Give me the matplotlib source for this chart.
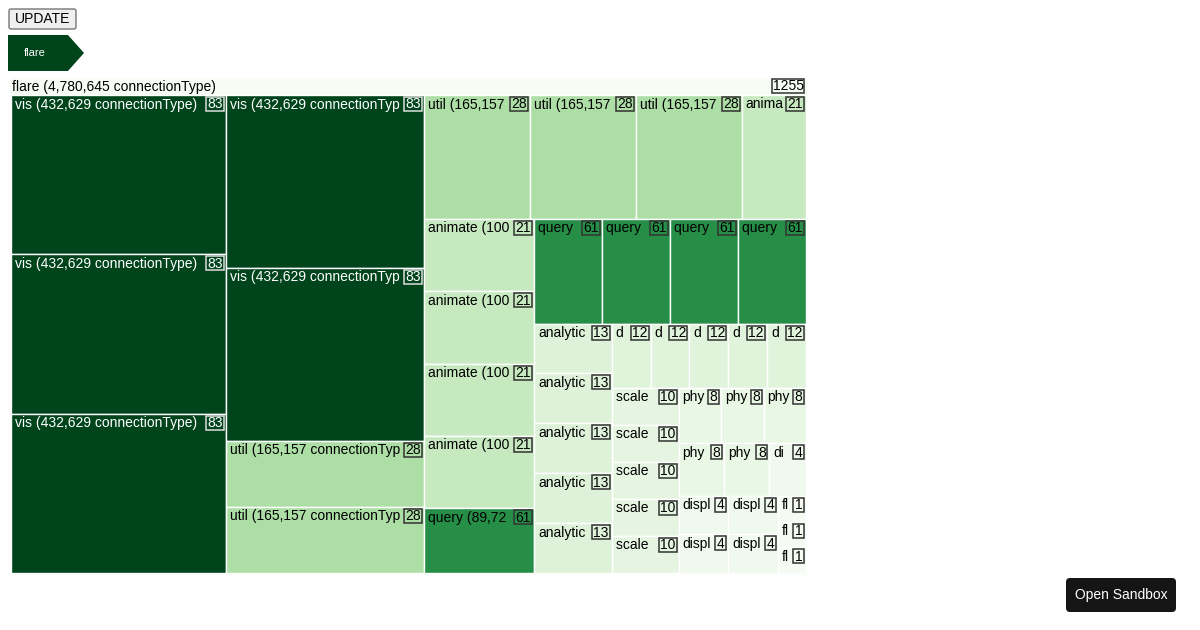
import matplotlib
matplotlib.use("Agg")
import matplotlib.pyplot as plt
from matplotlib.patches import Rectangle, FancyBboxPatch, Polygon
from matplotlib import colormaps

plt.rcParams["font.family"] = ["Liberation Sans", "DejaVu Sans"]

# ── Data ──────────────────────────────────────────────────────────────────────
root_name = "flare"
root_value = 4780645
root_count = 1255

group_names = ["vis", "util", "animate", "query", "analytics", "data",
               "scale", "physics", "display", "flare"]
group_values = [432629, 165157, 100453, 89721, 48716, 31400,
                31294, 29934, 24254, 9000]
group_counts = [83, 28, 21, 61, 13, 12, 10, 8, 4, 1]
group_repeats = [5, 5, 5, 5, 5, 5, 5, 5, 5, 3]

MAX_COUNT = 83
GREENS = colormaps["Greens"]

# ── Squarified layout (d3 style) ──────────────────────────────────────────────
PHI = (1 + 5 ** 0.5) / 2


def squarify(items, x0, y0, x1, y1):
    out = []
    value = sum(it[1] for it in items)
    i0 = 0
    n = len(items)
    while i0 < n:
        dx, dy = x1 - x0, y1 - y0
        i1 = i0
        s = items[i1][1]; i1 += 1
        mn = mx = s
        alpha = max(dy / dx, dx / dy) / (value * PHI)
        beta = s * s * alpha
        min_ratio = max(mx / beta, beta / mn)
        while i1 < n:
            v = items[i1][1]
            s += v
            mn, mx = min(mn, v), max(mx, v)
            beta = s * s * alpha
            r = max(mx / beta, beta / mn)
            if r > min_ratio:
                s -= v
                break
            min_ratio = r
            i1 += 1
        row = items[i0:i1]
        if dx < dy:  # dice: horizontal strip
            ny = y0 + dy * s / value
            cx = x0
            for it in row:
                w = dx * it[1] / s
                out.append((it, cx, y0, cx + w, ny))
                cx += w
            y0 = ny
        else:  # slice: vertical strip
            nx = x0 + dx * s / value
            cy = y0
            for it in row:
                h = dy * it[1] / s
                out.append((it, x0, cy, nx, cy + h))
                cy += h
            x0 = nx
        value -= s
        i0 = i1
    return out


items = []
for name, v, c, r in zip(group_names, group_values, group_counts, group_repeats):
    for _ in range(r):
        items.append((name, v, c))

# ── Figure ────────────────────────────────────────────────────────────────────
fig = plt.figure(figsize=(12, 6.3), dpi=100)
ax = fig.add_axes([0, 0, 1, 1])
ax.set_xlim(0, 1200)
ax.set_ylim(630, 0)
ax.axis("off")
renderer = fig.canvas.get_renderer()

RX0, RY0, RX1, RY1 = 10, 77, 807, 575
HEADER = 18

ax.add_patch(Rectangle((RX0, RY0), RX1 - RX0, RY1 - RY0,
                       facecolor=GREENS(0.0), edgecolor="white", lw=1))


def badge(x_right, y_top, count, dark, fs=10):
    txt = str(count)
    w = 7.0 * len(txt) + 4
    ax.add_patch(Rectangle((x_right - w - 2, y_top + 2), w, 14,
                           facecolor="none",
                           edgecolor="#dddddd" if dark else "#333333", lw=1.1))
    ax.text(x_right - 2 - w / 2, y_top + 9.5, txt, ha="center", va="center",
            fontsize=fs, color="white" if dark else "black")
    return x_right - w - 2


def label(x0, y0, xr, s, dark, fs=10):
    # truncate the text so it stays left of the badge
    avail = xr - x0 - 6
    t = ax.text(x0 + 4, y0 + 9.5, s, ha="left", va="center", fontsize=fs,
                color="white" if dark else "black")
    while s and t.get_window_extent(renderer).width > avail:
        s = s[:-1]
        t.set_text(s)
    return t


xr = badge(RX1 - 1, RY0, root_count, False)
label(RX0 - 2, RY0, xr, f"{root_name} ({root_value:,} connectionType)", False)

for (name, v, c), x0, y0, x1, y1 in squarify(items, RX0 + 1, RY0 + HEADER,
                                              RX1 - 1, RY1 - 2):
    frac = c / MAX_COUNT
    col = GREENS(frac)
    dark = frac > 0.85
    ax.add_patch(Rectangle((x0, y0), x1 - x0, y1 - y0, facecolor=col,
                           edgecolor="white", lw=1))
    if y1 - y0 < 24:
        xr = badge(x1, y0 + 1, c, dark, fs=9)
        label(x0, y0 + 1, xr, f"{name} ({v:,} connectionType)", dark, fs=5)
    else:
        xr = badge(x1, y0, c, dark)
        label(x0, y0, xr, f"{name} ({v:,} connectionType)", dark)

# ── Controls ──────────────────────────────────────────────────────────────────
ax.add_patch(FancyBboxPatch((9, 9), 67, 20, boxstyle="round,pad=0,rounding_size=2",
                            facecolor="#efefef", edgecolor="#767676", lw=1))
ax.text(42.5, 19, "UPDATE", ha="center", va="center", fontsize=10, color="black")

ax.add_patch(Polygon([(8, 35), (68, 35), (84, 53), (68, 71), (8, 71)],
                     closed=True, facecolor="#00441b", edgecolor="none"))
ax.text(35, 53, "flare", ha="center", va="center", fontsize=8, color="white")

ax.add_patch(FancyBboxPatch((1066, 578), 110, 34, boxstyle="round,pad=0,rounding_size=4",
                            facecolor="#151515", edgecolor="none"))
ax.text(1121, 595, "Open Sandbox", ha="center", va="center", fontsize=10, color="white")

fig.savefig("out.png", dpi=100, facecolor="white")
